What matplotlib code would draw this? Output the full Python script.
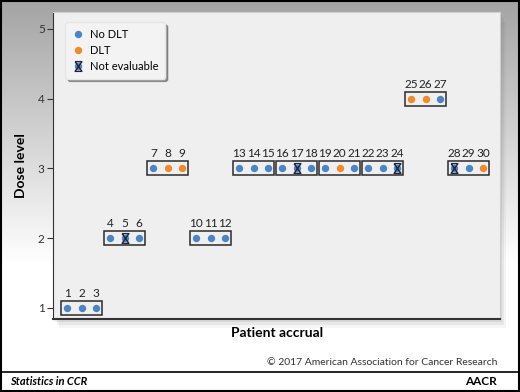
import numpy as np
import matplotlib
matplotlib.use("Agg")
import matplotlib.pyplot as plt
from matplotlib.lines import Line2D
from matplotlib.patches import Rectangle

plt.rcParams['font.family'] = ['Lato', 'DejaVu Sans']

# patients, dose levels and outcome
patients = list(range(1, 31))
cohort_levels = [1, 2, 3, 2, 3, 3, 3, 3, 4, 3]
dlt_patients = [8, 9, 20, 25, 26, 30]
not_evaluable = [5, 17, 24, 28]

levels = [cohort_levels[(p - 1) // 3] for p in patients]

blue = '#4a86c6'
orange = '#f28a2a'
navy = '#1c2540'

fig = plt.figure(figsize=(5.2, 3.92), dpi=100)

# gray panel background
bg = fig.add_axes([0, 0, 1, 1], zorder=-10)
grad = np.linspace(0, 1, 256)
col = np.clip(0.64 + 0.36 * grad / 0.80, 0, 1)
bg.imshow(np.repeat(col[:, None], 2, axis=1)[:, :, None].repeat(3, axis=2),
          extent=[0, 1, 0.16, 1], aspect='auto', origin='upper')
bg.set_xlim(0, 1)
bg.set_ylim(0, 1)
bg.add_patch(Rectangle((0, 0), 1, 0.16, color='white'))
# soft shadow behind the plot panel
for i, a in enumerate([0.10, 0.08, 0.06]):
    d = 0.004 * (i + 1)
    bg.add_patch(Rectangle((0.102 + d, 0.186 - 2 * d), 0.860, 0.783,
                           color='#555555', alpha=a, lw=0))
bg.axis('off')

ax = fig.add_axes([0.102, 0.186, 0.860, 0.783])
ax.set_facecolor('#efefef')
ax.set_xlim(0, 31.2)
ax.set_ylim(0.84, 5.24)

# cohort boxes and patient numbers
for c, lev in enumerate(cohort_levels):
    first = c * 3 + 1
    ax.add_patch(Rectangle((first - 0.45, lev - 0.1), 2.9, 0.2,
                           fill=False, edgecolor='#2a2a2a', lw=1.1, zorder=2))
    for p in range(first, first + 3):
        ax.text(p, lev + 0.13, str(p), ha='center', va='bottom',
                fontsize=8.5, color='#222222')

px = np.array(patients)
py = np.array(levels)
is_dlt = np.isin(px, dlt_patients)
is_ne = np.isin(px, not_evaluable)

ax.plot(px[~is_dlt], py[~is_dlt], 'o', color=blue, ms=4.3, zorder=3)
ax.plot(px[is_dlt], py[is_dlt], 'o', color=orange, ms=4.3, zorder=3)
hourglass = [(-0.7, 1), (0.7, 1), (-0.7, -1), (0.7, -1), (-0.7, 1)]
ax.plot(px[is_ne], py[is_ne], linestyle='none', marker=hourglass,
        mfc='none', mec=navy, mew=1.0, ms=7, zorder=4)

ax.set_yticks([1, 2, 3, 4, 5])
ax.set_xticks([])
ax.tick_params(axis='y', labelsize=8.5, length=4, width=0.8,
               colors='#333333', pad=2)
for s in ['top', 'right']:
    ax.spines[s].set_color('#cfcfcf')
    ax.spines[s].set_linewidth(0.8)
ax.spines['left'].set_color('#333333')
ax.spines['bottom'].set_color('#333333')
ax.spines['bottom'].set_linewidth(1.5)

ax.set_ylabel('Dose level', fontsize=10, fontweight='bold', labelpad=8)
ax.set_xlabel('Patient accrual', fontsize=10, fontweight='bold', labelpad=6)

handles = [
    Line2D([], [], linestyle='none', marker='o', color=blue, ms=4.3),
    Line2D([], [], linestyle='none', marker='o', color=orange, ms=4.3),
    (Line2D([], [], linestyle='none', marker='o', color=blue, ms=4.3),
     Line2D([], [], linestyle='none', marker=hourglass, mfc='none',
            mec=navy, mew=1.0, ms=7)),
]
leg = ax.legend(handles, ['No DLT', 'DLT', 'Not evaluable'],
                loc='upper left', bbox_to_anchor=(0.015, 0.985),
                fontsize=8, frameon=True, shadow=True, fancybox=True,
                handlelength=1.0, handletextpad=0.6, labelspacing=0.45,
                borderpad=0.6)
leg.get_frame().set_facecolor('#f3f3f3')
leg.get_frame().set_edgecolor('#e6e6e6')

# footer
fig.text(0.956, 0.0765, '\u00a9 2017 American Association for Cancer Research',
         ha='right', va='center', fontsize=7.5, color='#333333')
fig.text(0.02, 0.026, 'Statistics in CCR', ha='left', va='center',
         fontsize=8, fontweight='bold', style='italic', color='black')
fig.text(0.955, 0.026, 'AACR', ha='right', va='center',
         fontsize=8.5, fontweight='bold', color='black')
fig.add_artist(Line2D([0, 1], [0.051, 0.051], color='black', lw=1.2,
                      transform=fig.transFigure))
fig.add_artist(Rectangle((0.002, 0.003), 0.996, 0.994, fill=False,
                         edgecolor='black', lw=1.5,
                         transform=fig.transFigure))

fig.savefig('out.png', dpi=100)
